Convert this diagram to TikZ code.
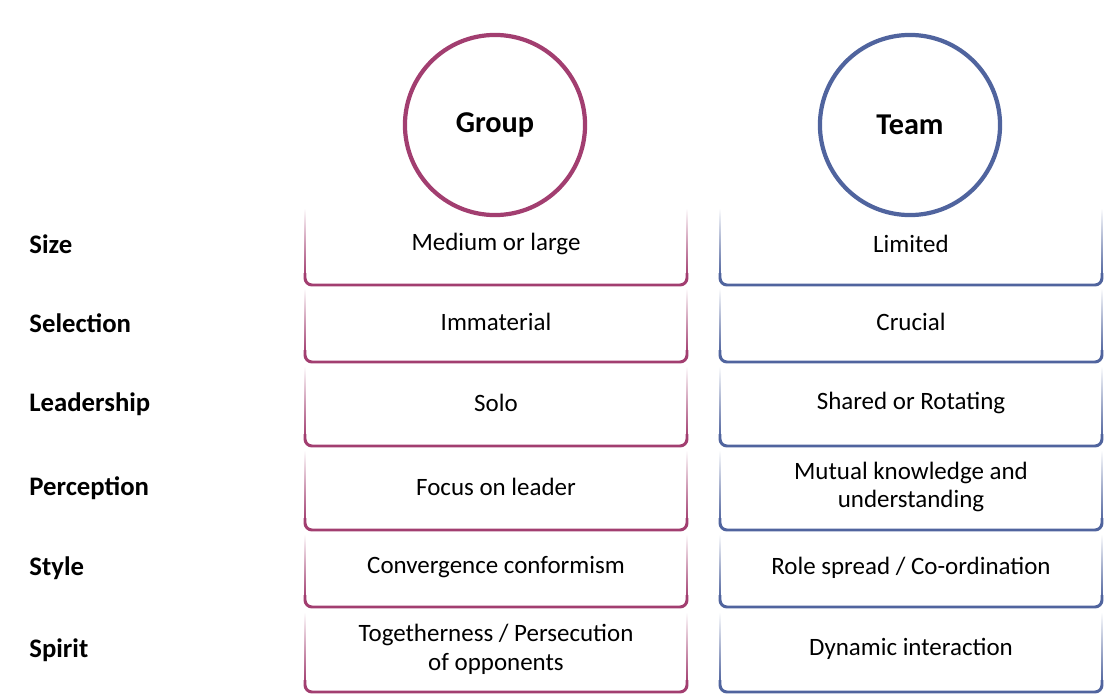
\documentclass[tikz,border=0pt]{standalone}
\usepackage{fontspec}
\setmainfont{Carlito}
\definecolor{grp}{RGB}{162,62,112}
\definecolor{tm}{RGB}{80,100,158}
\tikzset{
  ring/.style={circle, line width=1.2pt, minimum size=1.8cm, font=\fontsize{8.6}{10}\selectfont\bfseries},
  label/.style={anchor=west, font=\fontsize{7.6}{9}\selectfont\bfseries},
  cell/.style={align=center, font=\fontsize{7.1}{8.2}\selectfont},
}
% one box: x left, x right, y top, y bottom, colour
\newcommand{\cellbox}[5]{%
  \shade[top color=white, bottom color=#5] (#1-0.8,#3) rectangle (#1+0.8,#4-10);
  \shade[top color=white, bottom color=#5] (#2-0.8,#3) rectangle (#2+0.8,#4-10);
  \draw[#5, line width=0.85pt, rounded corners=2pt] (#1,#4-12) -- (#1,#4) -- (#2,#4) -- (#2,#4-12);
}
\begin{document}
\begin{tikzpicture}[x=0.01cm, y=-0.01cm]
\useasboundingbox (0,0) rectangle (1117,700);

\node[ring, draw=grp] (group) at (495,125) {Group};
\node[ring, draw=tm] (team) at (910,125) {Team};

\foreach \yt/\yb/\name/\g/\t [count=\i] in {
  208/285/Size/Medium or large/Limited,
  288/362/Selection/Immaterial/Crucial,
  366/446/Leadership/Solo/Shared or Rotating,
  450/530/Perception/Focus on leader/{Mutual knowledge and\\understanding},
  534/607/Style/Convergence conformism/{Role spread / Co-ordination},
  612/692/Spirit/{Togetherness / Persecution\\of opponents}/Dynamic interaction}
{
  \cellbox{305}{687}{\yt}{\yb}{grp}
  \cellbox{720}{1102}{\yt}{\yb}{tm}
  \node[label] (l\i) at (17,{(\yt+\yb)/2-2}) {\name};
  \node[cell] (g\i) at (496,{(\yt+\yb)/2-3}) {\g};
  \node[cell] (t\i) at (911,{(\yt+\yb)/2-3}) {\t};
}
\end{tikzpicture}
\end{document}
